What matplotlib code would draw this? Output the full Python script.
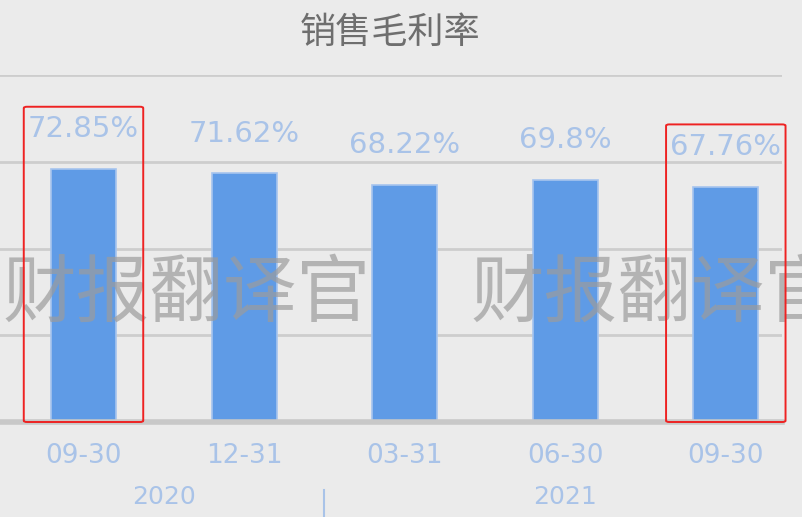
import matplotlib.pyplot as plt
from matplotlib.patches import FancyBboxPatch

plt.rcParams['font.family'] = ['DejaVu Sans', 'Noto Sans CJK SC']

# data
dates = ["09-30", "12-31", "03-31", "06-30", "09-30"]
years = ["2020", "2020", "2021", "2021", "2021"]
margin = [72.85, 71.62, 68.22, 69.8, 67.76]
labels = ["72.85%", "71.62%", "68.22%", "69.8%", "67.76%"]
highlight = [0, 4]

bg = "#ebebeb"
blue = "#5f9be6"
lab_col = "#a9c3e8"

fig = plt.figure(figsize=(8.03, 5.17), dpi=100, facecolor=bg)
ax = fig.add_axes([0, 95 / 517, 782 / 803, 347 / 517], facecolor=bg)

x = list(range(len(margin)))
ax.bar(x, margin, width=0.405, color=blue, edgecolor="#a6c4ee", linewidth=1.2, zorder=3)

ax.set_ylim(0, 100)
ax.set_xlim(-0.52, 4.35)
ax.set_yticks([25, 50, 75, 100])
ax.yaxis.grid(True, color="#cdcdcd", linewidth=2, zorder=0)
ax.tick_params(axis="y", left=False, labelleft=False)
for s in ["top", "right", "left"]:
    ax.spines[s].set_visible(False)
ax.spines["bottom"].set_color("#c8c8c8")
ax.spines["bottom"].set_linewidth(4)
ax.spines["bottom"].set_zorder(4)

ax.set_xticks(x)
ax.set_xticklabels(dates, fontsize=19, color=lab_col)
ax.tick_params(axis="x", length=0, pad=15)

# value labels
for i, v in enumerate(margin):
    ax.text(i, v + 11.5, labels[i], ha="center", va="center", fontsize=21, color=lab_col, zorder=5)

# watermark (under the red boxes, over the bars)
for cx in [0.232, 0.815]:
    ax.text(cx, 1 - 295 / 517, "财报翻译官", transform=fig.transFigure, ha="center", va="center",
            fontsize=53, color="#9c9c9c", alpha=0.7, family=["Noto Sans CJK SC"],
            zorder=5.5, clip_on=False)

# highlight boxes
for i in highlight:
    box = FancyBboxPatch((i - 0.372, 0), 0.744, margin[i] + 18,
                         boxstyle="round,pad=0,rounding_size=0.02",
                         fill=False, edgecolor="#ee2222", linewidth=1.4,
                         mutation_aspect=100 / 4.86 * 160.5 / 347 * 2, zorder=6, clip_on=False)
    ax.add_patch(box)

# year groups
groups = []
for i, y in enumerate(years):
    if groups and groups[-1][0] == y:
        groups[-1][1].append(i)
    else:
        groups.append((y, [i]))
trans = ax.get_xaxis_transform()
for y, idx in groups:
    ax.text(sum(idx) / len(idx), -75 / 347, y, transform=trans, ha="center", va="center",
            fontsize=18, color=lab_col, clip_on=False)
for k in range(len(groups) - 1):
    sep = groups[k][1][-1] + 0.5
    ax.plot([sep, sep], [-68 / 347, -95 / 347], transform=trans, color=lab_col,
            linewidth=1.5, clip_on=False)

fig.text(0.486, 1 - 33 / 517, "销售毛利率", ha="center", va="center", fontsize=26,
         color="#6e6e6e", family=["Noto Sans CJK SC"])

fig.savefig("out.png", dpi=100, facecolor=bg)
